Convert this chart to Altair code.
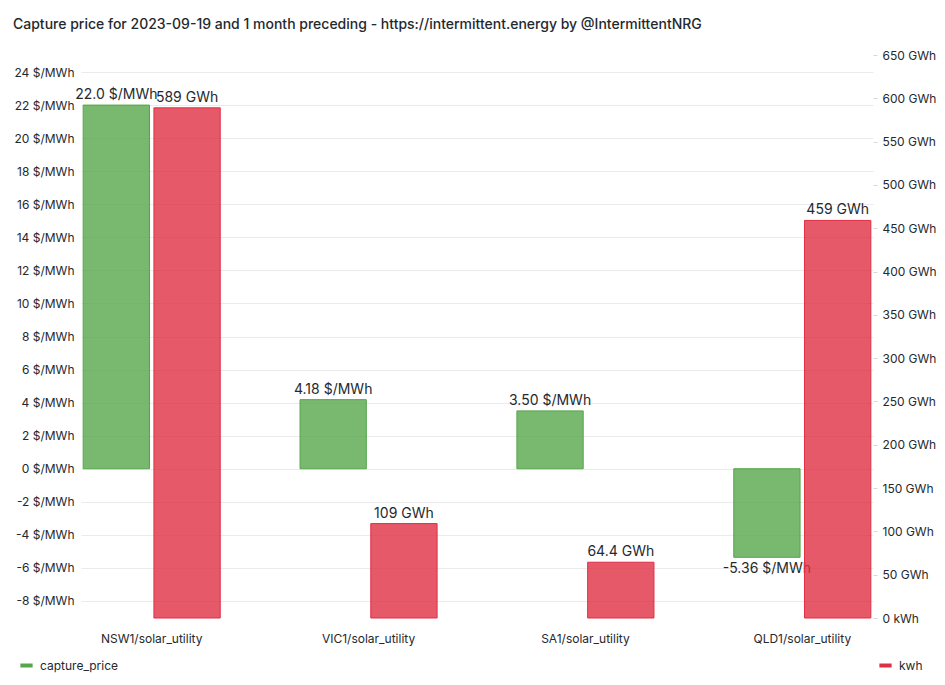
import altair as alt
import pandas as pd

regions = ["NSW1/solar_utility", "VIC1/solar_utility", "SA1/solar_utility", "QLD1/solar_utility"]
capture_price = [22.0, 4.18, 3.50, -5.36]   # $/MWh
energy_gwh = [589, 109, 64.4, 459]          # GWh

price_labels = [f"{v:#.3g} $/MWh" for v in capture_price]
energy_labels = [f"{v:.3g} GWh" for v in energy_gwh]

rows = []
for r, v, l in zip(regions, capture_price, price_labels):
    rows.append({"region": r, "series": "capture_price", "value": v, "label": l})
for r, v, l in zip(regions, energy_gwh, energy_labels):
    rows.append({"region": r, "series": "kwh", "value": v, "label": l})
df = pd.DataFrame(rows)

FONT = "Inter"
TXT = "#24292e"
GREEN = "#56A64B"
RED = "#E02F44"

x_enc = alt.X("region:N", sort=regions, title=None,
              scale=alt.Scale(paddingInner=0.368, paddingOuter=0.01),
              axis=alt.Axis(labelAngle=0, ticks=False, domain=False, grid=False,
                            labelPadding=15, labelFontSize=12, labelColor=TXT, labelFont=FONT))
xoff = alt.XOffset("series:N", scale=alt.Scale(domain=["capture_price", "kwh"], paddingInner=0.063, paddingOuter=0))

y_left = alt.Y("value:Q", title=None,
               scale=alt.Scale(domain=[-9.03, 25.03], nice=False, zero=False),
               axis=alt.Axis(orient="left", values=list(range(-8, 25, 2)),
                             labelExpr="datum.value + ' $/MWh'", ticks=False, tickSize=0,
                             domain=False, grid=True, gridColor="#ebebeb",
                             labelPadding=7, labelFontSize=12, labelColor=TXT, labelFont=FONT))
y_right = alt.Y("value:Q", title=None,
                scale=alt.Scale(domain=[0, 650], nice=False),
                axis=alt.Axis(orient="right", values=list(range(0, 651, 50)),
                              labelExpr="datum.value == 0 ? '0 kWh' : datum.value + ' GWh'",
                              ticks=True, tickSize=4, tickColor="#d8d8d8", domain=False, grid=False,
                              labelPadding=5, labelFontSize=12, labelColor=TXT, labelFont=FONT))

base = alt.Chart(df)
gbase = base.transform_filter("datum.series == 'capture_price'")
rbase = base.transform_filter("datum.series == 'kwh'")

green_bar = gbase.mark_bar(fillOpacity=0.8, stroke=GREEN, strokeWidth=1).encode(
    x=x_enc, xOffset=xoff, y=y_left,
    color=alt.Color("series:N", scale=alt.Scale(domain=["capture_price"], range=[GREEN]),
                    legend=alt.Legend(title=None, orient="none", legendX=-63, legendY=602,
                                      symbolType="stroke", symbolStrokeColor=GREEN,
                                      symbolStrokeWidth=4, symbolSize=150,
                                      labelFontSize=12, labelColor=TXT, labelFont=FONT, labelOffset=5)))
green_txt_pos = gbase.transform_filter("datum.value >= 0").mark_text(
    baseline="bottom", dy=-3, fontSize=14, font=FONT, color=TXT).encode(
    x=x_enc, xOffset=xoff, y=y_left, text="label:N")
green_txt_neg = gbase.transform_filter("datum.value < 0").mark_text(
    baseline="top", dy=5, fontSize=14, font=FONT, color=TXT).encode(
    x=x_enc, xOffset=xoff, y=y_left, text="label:N")

red_bar = rbase.mark_bar(fillOpacity=0.8, stroke=RED, strokeWidth=1).encode(
    x=x_enc, xOffset=xoff, y=y_right,
    color=alt.Color("series:N", scale=alt.Scale(domain=["kwh"], range=[RED]),
                    legend=alt.Legend(title=None, orient="none", legendX=796, legendY=602,
                                      symbolType="stroke", symbolStrokeColor=RED,
                                      symbolStrokeWidth=4, symbolSize=150,
                                      labelFontSize=12, labelColor=TXT, labelFont=FONT, labelOffset=5)))
red_txt = rbase.mark_text(baseline="bottom", dy=-3, fontSize=14, font=FONT, color=TXT).encode(
    x=x_enc, xOffset=xoff, y=y_right, text="label:N")

left = alt.layer(green_bar, green_txt_pos, green_txt_neg)
right = alt.layer(red_bar, red_txt)

chart = alt.layer(left, right).resolve_scale(y="independent", color="independent").properties(
    width=792, height=563,
    autosize=alt.AutoSizeParams(type="none"),
    padding={"left": 73, "top": 47, "right": 64, "bottom": 59},
    background="white",
    title=alt.TitleParams(
        "Capture price for 2023-09-19 and 1 month preceding - https://intermittent.energy by @IntermittentNRG",
        anchor="start", frame="group", dx=-68, offset=17, fontSize=14, fontWeight=500,
        font=FONT, color=TXT),
).configure_view(stroke=None)

chart.save("out.html", embed_options={"renderer": "svg", "actions": False})
